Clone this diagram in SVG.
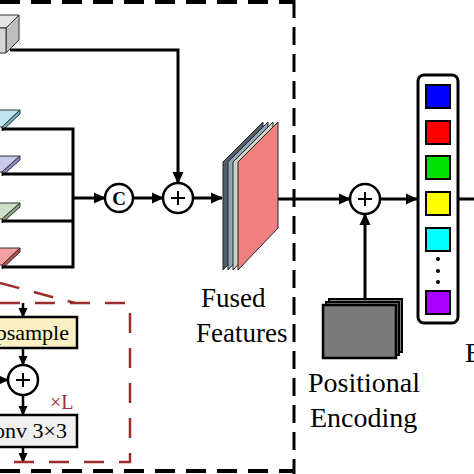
<svg xmlns="http://www.w3.org/2000/svg" width="474" height="474" viewBox="0 0 474 474">
<defs>
<marker id="ah" markerUnits="userSpaceOnUse" markerWidth="12" markerHeight="12" refX="11" refY="6" orient="auto">
<path d="M0,0.5 L12,6 L0,11.5 z" fill="#000"/>
</marker>
<marker id="ahs" markerUnits="userSpaceOnUse" markerWidth="10" markerHeight="10" refX="9" refY="5" orient="auto">
<path d="M0,0.5 L10,5 L0,9.5 z" fill="#000"/>
</marker>
</defs>
<style>
.c{fill:none;stroke:#000;stroke-width:3}
.cs{fill:none;stroke:#000;stroke-width:2.5}
.blk{fill:none;stroke:#000;stroke-width:4;stroke-dasharray:20 11}
.mr{fill:none;stroke:#9a2e2e;stroke-width:2.5;stroke-dasharray:20 15}
.circ{fill:#fff;stroke:#000;stroke-width:2.5}
.plus{stroke:#000;stroke-width:2}
.t{font-family:"Liberation Serif","Times New Roman",serif;fill:#000}
.sl{stroke:#333;stroke-width:1}
</style>

<g id="frames">
<line class="blk" x1="0" y1="2" x2="294" y2="2"/>
<line class="blk" x1="294" y1="0" x2="294" y2="474" stroke-width="3" style="stroke-width:3;stroke-dasharray:18 9"/>
<line class="blk" x1="0" y1="471" x2="294" y2="471"/>
</g>

<g id="feat-gray">
<polygon points="-30,15 19,15 6,28 -43,28" fill="#e6e6e6" stroke="#333" stroke-width="1"/>
<polygon points="6,28 19,15 19,40 6,53" fill="#bdbdbd" stroke="#333" stroke-width="1"/>
<polygon points="-43,28 6,28 6,53 -43,53" fill="#d6d6d6" stroke="#333" stroke-width="1"/>
</g>
<g id="feat-cyan">
<polygon points="-20,110 20,110 2,127 -38,127" fill="#bfe6ee" stroke="#333" stroke-width="1"/>
<polygon points="2,127 20,110 20,114 2,131" fill="#6fb4c4" stroke="#333" stroke-width="1"/>
</g>
<g id="feat-purple">
<polygon points="-20,156 20,156 2,172 -38,172" fill="#c9c9ee" stroke="#333" stroke-width="1"/>
<polygon points="2,172 20,156 20,160 2,176" fill="#8a8ac8" stroke="#333" stroke-width="1"/>
</g>
<g id="feat-green">
<polygon points="-20,203 20,203 2,219 -38,219" fill="#cfe0c8" stroke="#333" stroke-width="1"/>
<polygon points="2,219 20,203 20,207 2,223" fill="#8aa882" stroke="#333" stroke-width="1"/>
</g>
<g id="feat-red">
<polygon points="-20,248 20,248 2,265 -38,265" fill="#f2a0a0" stroke="#333" stroke-width="1"/>
<polygon points="2,265 20,248 20,252 2,269" fill="#c05050" stroke="#333" stroke-width="1"/>
</g>

<g id="connectors">
<polyline class="c" points="10,50 178,50 178,183" marker-end="url(#ah)"/>
<polyline class="c" points="2,129 73,129 73,267 2,267"/>
<line class="c" x1="2" y1="174" x2="73" y2="174"/>
<line class="c" x1="2" y1="221" x2="73" y2="221"/>
<line class="c" x1="73" y1="198" x2="105" y2="198" marker-end="url(#ah)"/>
<line class="c" x1="133" y1="198" x2="163" y2="198" marker-end="url(#ah)"/>
<line class="c" x1="193" y1="198" x2="222" y2="198" marker-end="url(#ah)"/>
<line class="c" x1="278" y1="199" x2="350" y2="199" marker-end="url(#ah)"/>
<line class="c" x1="380" y1="199" x2="417" y2="199" marker-end="url(#ah)"/>
<line class="c" x1="365" y1="300" x2="365" y2="214" marker-end="url(#ah)"/>
<line class="c" x1="458" y1="199" x2="474" y2="199"/>
<line class="cs" x1="23" y1="303" x2="23" y2="317" marker-end="url(#ahs)"/>
<line class="cs" x1="23" y1="348" x2="23" y2="365" marker-end="url(#ahs)"/>
<line class="cs" x1="0" y1="380" x2="8" y2="380" marker-end="url(#ahs)"/>
<line class="cs" x1="23" y1="395" x2="23" y2="415" marker-end="url(#ahs)"/>
<line class="cs" x1="23" y1="447" x2="23" y2="462" marker-end="url(#ahs)"/>
</g>

<g id="concat">
<circle class="circ" cx="119" cy="198" r="14"/>
<text class="t" x="119" y="205" font-size="19" font-weight="bold" text-anchor="middle">C</text>
</g>
<g id="add1">
<circle class="circ" cx="178" cy="198" r="15"/>
<line class="plus" x1="171" y1="198" x2="185" y2="198"/>
<line class="plus" x1="178" y1="191" x2="178" y2="205"/>
</g>

<g id="fused">
<polygon points="223,162 263,122 263,228 223,270" fill="#555d66" stroke="#222" stroke-width="1"/>
<polygon points="228,162 268,122 268,228 228,270" fill="#8fa6bd" stroke="#222" stroke-width="1"/>
<polygon points="233,162 273,122 273,228 233,270" fill="#cbd3c5" stroke="#222" stroke-width="1"/>
<polygon points="238,162 278,122 278,228 238,270" fill="#f08080" stroke="#222" stroke-width="1"/>
<text class="t" x="201" y="307" font-size="27">Fused</text>
<text class="t" x="196" y="342" font-size="27">Features</text>
</g>

<g id="add2">
<circle class="circ" cx="365" cy="199" r="15"/>
<line class="plus" x1="358" y1="199" x2="372" y2="199"/>
<line class="plus" x1="365" y1="192" x2="365" y2="206"/>
</g>

<g id="posenc">
<rect x="329" y="299" width="73" height="53" fill="#808080" stroke="#000" stroke-width="2"/>
<rect x="326" y="302" width="73" height="53" fill="#808080" stroke="#000" stroke-width="2"/>
<rect x="323" y="305" width="73" height="53" fill="#7a7a7a" stroke="#000" stroke-width="2.5"/>
<text class="t" x="308" y="392" font-size="28">Positional</text>
<text class="t" x="310" y="427" font-size="28">Encoding</text>
</g>

<g id="tokens">
<rect x="418" y="75" width="40" height="248" rx="6" fill="#fff" stroke="#000" stroke-width="3"/>
<rect x="426" y="85" width="24" height="23" fill="#0000ff" stroke="#000" stroke-width="2"/>
<rect x="426" y="121" width="24" height="23" fill="#ff0000" stroke="#000" stroke-width="2"/>
<rect x="426" y="156" width="24" height="23" fill="#00e000" stroke="#000" stroke-width="2"/>
<rect x="426" y="192" width="24" height="23" fill="#ffff00" stroke="#000" stroke-width="2"/>
<rect x="426" y="228" width="24" height="23" fill="#00ffff" stroke="#000" stroke-width="2"/>
<circle cx="438" cy="259" r="2" fill="#000"/>
<circle cx="438" cy="271" r="2" fill="#000"/>
<circle cx="438" cy="282" r="2" fill="#000"/>
<rect x="426" y="291" width="24" height="23" fill="#a800ff" stroke="#000" stroke-width="2"/>
<text class="t" x="465" y="362" font-size="28">E</text>
</g>

<g id="decoder">
<line class="mr" x1="0" y1="283" x2="75" y2="303"/>
<polyline class="mr" points="0,303 130,303 130,462 0,462"/>
<text x="50" y="409" font-family="Liberation Serif, serif" font-size="20" fill="#a03030">×L</text>
</g>
<g id="upsample">
<rect x="-5" y="317" width="82" height="31" fill="#fdf0c4" stroke="#000" stroke-width="2.5"/>
<text class="t" x="69" y="340" font-size="22" text-anchor="end">Upsample</text>
</g>
<g id="add3">
<circle class="circ" cx="23" cy="380" r="15"/>
<line class="plus" x1="16" y1="380" x2="30" y2="380"/>
<line class="plus" x1="23" y1="373" x2="23" y2="387"/>
</g>
<g id="conv">
<rect x="-5" y="415" width="82" height="32" fill="#f0f0f0" stroke="#000" stroke-width="2.5"/>
<text class="t" x="67" y="438" font-size="22" text-anchor="end">Conv 3×3</text>
</g>
</svg>
